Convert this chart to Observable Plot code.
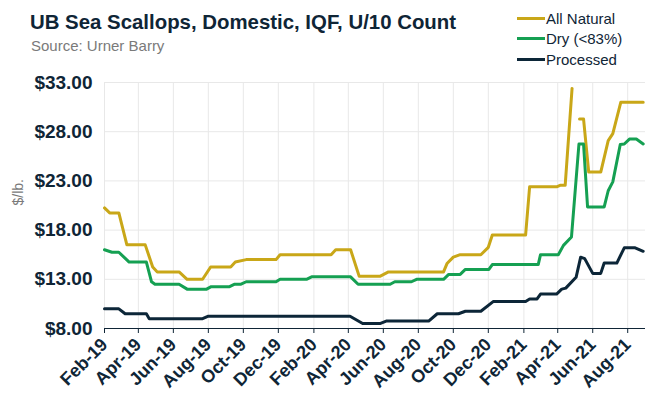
<!DOCTYPE html>
<html><head><meta charset="utf-8">
<script src="https://cdn.jsdelivr.net/npm/d3@7"></script>
<script src="https://cdn.jsdelivr.net/npm/@observablehq/plot@0.6"></script>
<style>
body{margin:0;background:#fff;font-family:"Liberation Sans",Arial,sans-serif;}
#wrap{position:relative;width:666px;height:400px;overflow:hidden;background:#fff;}
#title{position:absolute;left:30px;top:11px;font-size:20.4px;font-weight:bold;color:#0f2536;white-space:nowrap;}
#sub{position:absolute;left:31px;top:37px;font-size:15px;color:#7a7a7a;white-space:nowrap;}
#legend{position:absolute;left:517px;top:8px;}
.li{display:flex;align-items:center;height:20.5px;font-size:15px;color:#0f2536;white-space:nowrap;}
.sw{width:28px;height:3px;margin-right:1px;}
#chart{position:absolute;left:0;top:66px;}
</style>
</head><body>
<div id="wrap">
  <div id="title">UB Sea Scallops, Domestic, IQF, U/10 Count</div>
  <div id="sub">Source: Urner Barry</div>
  <div id="legend"></div>
  <div id="chart"></div>
</div>
<script>
const seriesNames = ["All Natural", "Dry (<83%)", "Processed"];
const seriesColors = ["#C9A718", "#15A052", "#0C2638"];

const naturalDates = ["2019-02-01","2019-02-10","2019-02-26","2019-03-12","2019-04-13","2019-04-26","2019-05-04","2019-06-11","2019-06-25","2019-07-22","2019-08-05","2019-09-09","2019-09-17","2019-10-06","2019-11-27","2019-12-04","2020-03-02","2020-03-10","2020-04-05","2020-04-20","2020-05-26","2020-06-10","2020-09-14","2020-09-20","2020-10-01","2020-10-13","2020-11-18","2020-12-01","2020-12-08","2021-02-04","2021-02-11","2021-03-30","2021-04-05","2021-04-14","2021-04-26","2021-05-02","2021-05-09","2021-05-16","2021-05-25","2021-06-15","2021-06-28","2021-07-06","2021-07-20","2021-08-28"];
const naturalValues = [20.25,19.75,19.75,16.5,16.5,14.25,13.75,13.75,13.0,13.0,14.25,14.25,14.75,15.0,15.0,15.5,15.5,16.0,16.0,13.3,13.3,13.75,13.75,14.6,15.25,15.5,15.5,16.25,17.5,17.5,22.4,22.4,22.55,22.55,32.4,null,29.3,29.3,23.9,23.9,27.1,27.8,31.0,31.0];

const dryDates = ["2019-02-01","2019-02-14","2019-02-26","2019-03-16","2019-04-15","2019-04-24","2019-04-30","2019-06-11","2019-06-25","2019-07-29","2019-08-06","2019-09-07","2019-09-16","2019-09-27","2019-10-06","2019-11-27","2019-12-04","2020-01-19","2020-01-28","2020-04-05","2020-04-18","2020-06-13","2020-06-21","2020-07-20","2020-07-29","2020-09-14","2020-09-23","2020-10-13","2020-10-22","2020-12-02","2020-12-08","2021-02-26","2021-03-02","2021-04-02","2021-04-11","2021-04-25","2021-05-08","2021-05-16","2021-05-23","2021-06-21","2021-06-28","2021-07-06","2021-07-19","2021-07-26","2021-08-04","2021-08-16","2021-08-28"];
const dryValues = [16.0,15.75,15.75,14.75,14.75,12.75,12.5,12.5,12.0,12.0,12.25,12.25,12.5,12.5,12.75,12.75,13.0,13.0,13.25,13.25,12.5,12.5,12.75,12.75,13.0,13.0,13.5,13.5,14.0,14.0,14.5,14.5,15.5,15.5,16.45,17.3,26.75,26.75,20.35,20.35,22.0,22.9,26.7,26.75,27.25,27.25,26.75];

const processedDates = ["2019-02-01","2019-02-26","2019-03-09","2019-04-15","2019-04-20","2019-07-22","2019-08-01","2020-04-04","2020-04-26","2020-05-26","2020-06-06","2020-08-19","2020-09-03","2020-10-10","2020-10-22","2020-11-18","2020-12-10","2021-02-04","2021-02-11","2021-02-24","2021-03-02","2021-03-30","2021-04-08","2021-04-15","2021-05-03","2021-05-11","2021-05-18","2021-06-01","2021-06-15","2021-06-21","2021-07-13","2021-07-26","2021-08-14","2021-08-28"];
const processedValues = [10.0,10.0,9.5,9.5,9.0,9.0,9.25,9.25,8.5,8.5,8.75,8.75,9.5,9.5,9.75,9.75,10.75,10.75,11.0,11.0,11.5,11.5,12.0,12.1,13.2,15.25,15.1,13.6,13.6,14.65,14.65,16.2,16.2,15.85];

const yTicks = [8, 13, 18, 23, 28, 33];
const xTickDates = ["2019-02-01","2019-04-01","2019-06-01","2019-08-01","2019-10-01","2019-12-01","2020-02-01","2020-04-01","2020-06-01","2020-08-01","2020-10-01","2020-12-01","2021-02-01","2021-04-01","2021-06-01","2021-08-01"];
const xDomain = ["2019-02-01", "2021-09-01"];

const parse = d3.utcParse("%Y-%m-%d");
const rows = [];
[[naturalDates, naturalValues], [dryDates, dryValues], [processedDates, processedValues]].forEach(([ds, vs], i) => {
  ds.forEach((d, j) => rows.push({series: seriesNames[i], date: parse(d), value: vs[j]}));
});
const xTicks = xTickDates.map(parse);
const fmtX = d3.utcFormat("%b-%y");

const legend = document.getElementById("legend");
seriesNames.forEach((n, i) => {
  const el = document.createElement("div");
  el.className = "li";
  el.innerHTML = `<span class="sw" style="background:${seriesColors[i]}"></span><span></span>`;
  el.lastChild.textContent = n;
  legend.appendChild(el);
});

const chart = Plot.plot({
  width: 666,
  height: 334,
  marginTop: 16,
  marginBottom: 72,
  marginLeft: 104,
  marginRight: 21,
  style: {fontFamily: '"Liberation Sans", Arial, sans-serif', background: "#fff", color: "#0f2536"},
  x: {type: "utc", domain: xDomain.map(parse)},
  y: {domain: [8, 33]},
  color: {domain: seriesNames, range: seriesColors},
  marks: [
    Plot.gridX(xTicks, {stroke: "#e8e8e8", strokeOpacity: 1}),
    Plot.gridY(yTicks, {stroke: "#e8e8e8", strokeOpacity: 1}),
    Plot.axisY(yTicks, {tickFormat: d => "$" + d.toFixed(2), fontSize: 19, fontWeight: "bold", tickSize: 0, tickPadding: 12, label: null, fill: "#0f2536"}),
    Plot.axisX(xTicks, {tickFormat: fmtX, tickRotate: -45, fontSize: 18, fontWeight: "bold", tickSize: 5, tickPadding: 8, label: null, stroke: "#0f2536", fill: "#0f2536"}),
    Plot.ruleY([8], {stroke: "#0f2536", strokeWidth: 1.2}),
    Plot.text(["$/lb."], {frameAnchor: "left", dx: -86, rotate: -90, fill: "#7a7a7a", fontSize: 14}),
    Plot.line(rows, {x: "date", y: "value", z: "series", stroke: "series", strokeWidth: 3, curve: "linear"})
  ]
});
document.getElementById("chart").appendChild(chart);
</script>
</body></html>
